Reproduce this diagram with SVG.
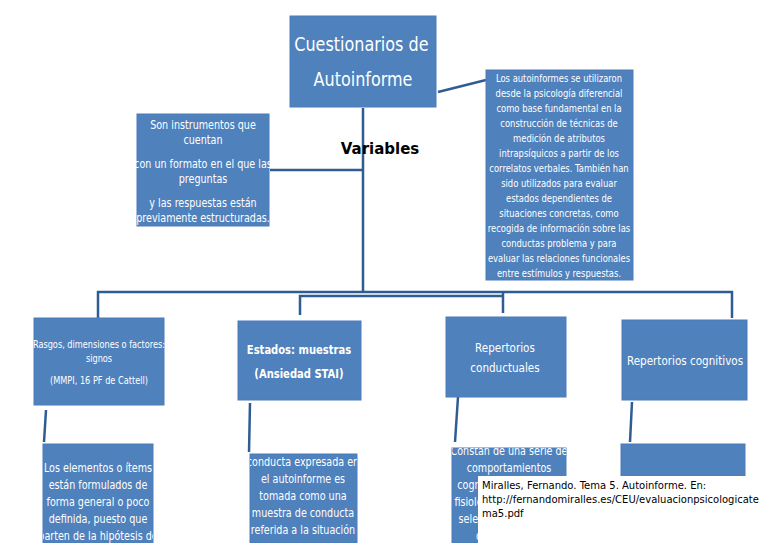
<svg xmlns="http://www.w3.org/2000/svg" width="768" height="543" viewBox="0 0 768 543">
<style>
.b{fill:#4F81BD;stroke:#4A7DBB;stroke-width:1}
.t{font-family:"DejaVu Sans",sans-serif;fill:#fff;text-anchor:middle}
.c{stroke:#2F5D93;stroke-width:2.5;fill:none}
</style>
<defs>
<clipPath id="k1"><rect x="43" y="444" width="110" height="99"/></clipPath>
<clipPath id="k2"><rect x="250" y="454" width="107" height="89"/></clipPath>
<clipPath id="k3"><rect x="452" y="448" width="114" height="95"/></clipPath>
</defs>
<rect width="768" height="543" fill="#fff"/>
<g id="connectors">
<path class="c" d="M363 108V292M270 170H363M438 92L486 80M98 318V292H732V318M300 315V296H503V313M503 292V296M46 410L44 442M250 403L249 452M458 397L455 442M632 402L630 442"/>
</g>
<g id="root"><rect class="b" x="290" y="16" width="146" height="91"/>
<g transform="translate(363 0) scale(0.8 1) translate(-363 0)"><text class="t" font-size="20" x="361" y="51">Cuestionarios de</text>
<text class="t" font-size="20" x="363" y="86">Autoinforme</text></g></g>
<g id="variables"><text x="380" y="154" font-family="DejaVu Sans,sans-serif" font-weight="bold" font-size="15" text-anchor="middle">Variables</text></g>
<g id="def"><rect class="b" x="137" y="114" width="132" height="112"/>
<g class="t" font-size="12" transform="translate(203 0) scale(0.8 1) translate(-203 0)"><text x="203" y="129">Son instrumentos que</text><text x="203" y="144">cuentan</text><text x="203" y="168">con un formato en el que las</text><text x="203" y="183">preguntas</text><text x="203" y="207">y las respuestas están</text><text x="203" y="222">previamente estructuradas.</text></g></g>
<g id="hist"><rect class="b" x="486" y="70" width="147" height="210"/>
<g class="t" font-size="10.5" transform="translate(559 0) scale(0.8 1) translate(-559 0)"><text x="559" y="82">Los autoinformes se utilizaron</text><text x="559" y="97">desde la psicología diferencial</text><text x="559" y="112">como base fundamental en la</text><text x="559" y="127">construcción de técnicas de</text><text x="559" y="142">medición de atributos</text><text x="559" y="157">intrapsíquicos a partir de los</text><text x="559" y="172">correlatos verbales. También han</text><text x="559" y="187">sido utilizados para evaluar</text><text x="559" y="202">estados dependientes de</text><text x="559" y="217">situaciones concretas, como</text><text x="559" y="232">recogida de información sobre las</text><text x="559" y="247">conductas problema y para</text><text x="559" y="262">evaluar las relaciones funcionales</text><text x="559" y="277">entre estímulos y respuestas.</text></g></g>
<g id="rasgos"><rect class="b" x="34" y="318" width="130" height="87"/>
<g class="t" font-size="10.5" transform="translate(99 0) scale(0.78 1) translate(-99 0)"><text x="99" y="348">Rasgos, dimensiones o factores:</text><text x="99" y="362">signos</text><text x="99" y="384">(MMPI, 16 PF de Cattell)</text></g></g>
<g id="estados"><rect class="b" x="238" y="321" width="123" height="79"/>
<g class="t" font-size="12.5" font-weight="bold" transform="translate(299 0) scale(0.8 1) translate(-299 0)"><text x="299" y="354">Estados: muestras</text><text x="299" y="378">(Ansiedad STAI)</text></g></g>
<g id="conductuales"><rect class="b" x="446" y="317" width="120" height="80"/>
<g class="t" font-size="13" transform="translate(505 0) scale(0.8 1) translate(-505 0)"><text x="505" y="352">Repertorios</text><text x="505" y="372">conductuales</text></g></g>
<g id="cognitivos"><rect class="b" x="622" y="320" width="125" height="80"/>
<g class="t" font-size="13" transform="translate(685 0) scale(0.8 1) translate(-685 0)"><text x="685" y="365">Repertorios cognitivos</text></g></g>
<g id="d1"><rect class="b" x="43" y="444" width="110" height="99"/>
<g clip-path="url(#k1)"><g class="t" font-size="12" transform="translate(98 0) scale(0.8 1) translate(-98 0)"><text x="98" y="472">Los elementos o ítems</text><text x="98" y="489">están formulados de</text><text x="98" y="506">forma general o poco</text><text x="98" y="523">definida, puesto que</text><text x="98" y="540">parten de la hipótesis de</text></g></g></g>
<g id="d2"><rect class="b" x="250" y="454" width="107" height="89"/>
<g clip-path="url(#k2)"><g class="t" font-size="12" transform="translate(303 0) scale(0.8 1) translate(-303 0)"><text x="303" y="466">conducta expresada en</text><text x="303" y="483">el autoinforme es</text><text x="303" y="500">tomada como una</text><text x="303" y="517">muestra de conducta</text><text x="303" y="534">referida a la situación</text></g></g></g>
<g id="d3"><rect class="b" x="452" y="448" width="114" height="95"/>
<g clip-path="url(#k3)"><g class="t" font-size="12" transform="translate(509 0) scale(0.8 1) translate(-509 0)"><text x="509" y="455">Constan de una serie de</text><text x="509" y="472">comportamientos</text><text x="509" y="489">cognitivos, motores o</text><text x="509" y="506">fisiológicos que se han</text><text x="509" y="523">seleccionado a partir</text><text x="509" y="540">de un análisis</text></g></g></g>
<g id="d4"><rect class="b" x="621" y="444" width="124" height="32"/></g>
<g id="cita"><rect x="478" y="476" width="290" height="67" fill="#fff"/>
<g font-family="DejaVu Sans,sans-serif" font-size="10" fill="#000"><text x="482" y="489">Miralles, Fernando. Tema 5. Autoinforme. En:</text><text x="482" y="503">http://fernandomiralles.es/CEU/evaluacionpsicologicate</text><text x="482" y="517">ma5.pdf</text></g></g>
</svg>
